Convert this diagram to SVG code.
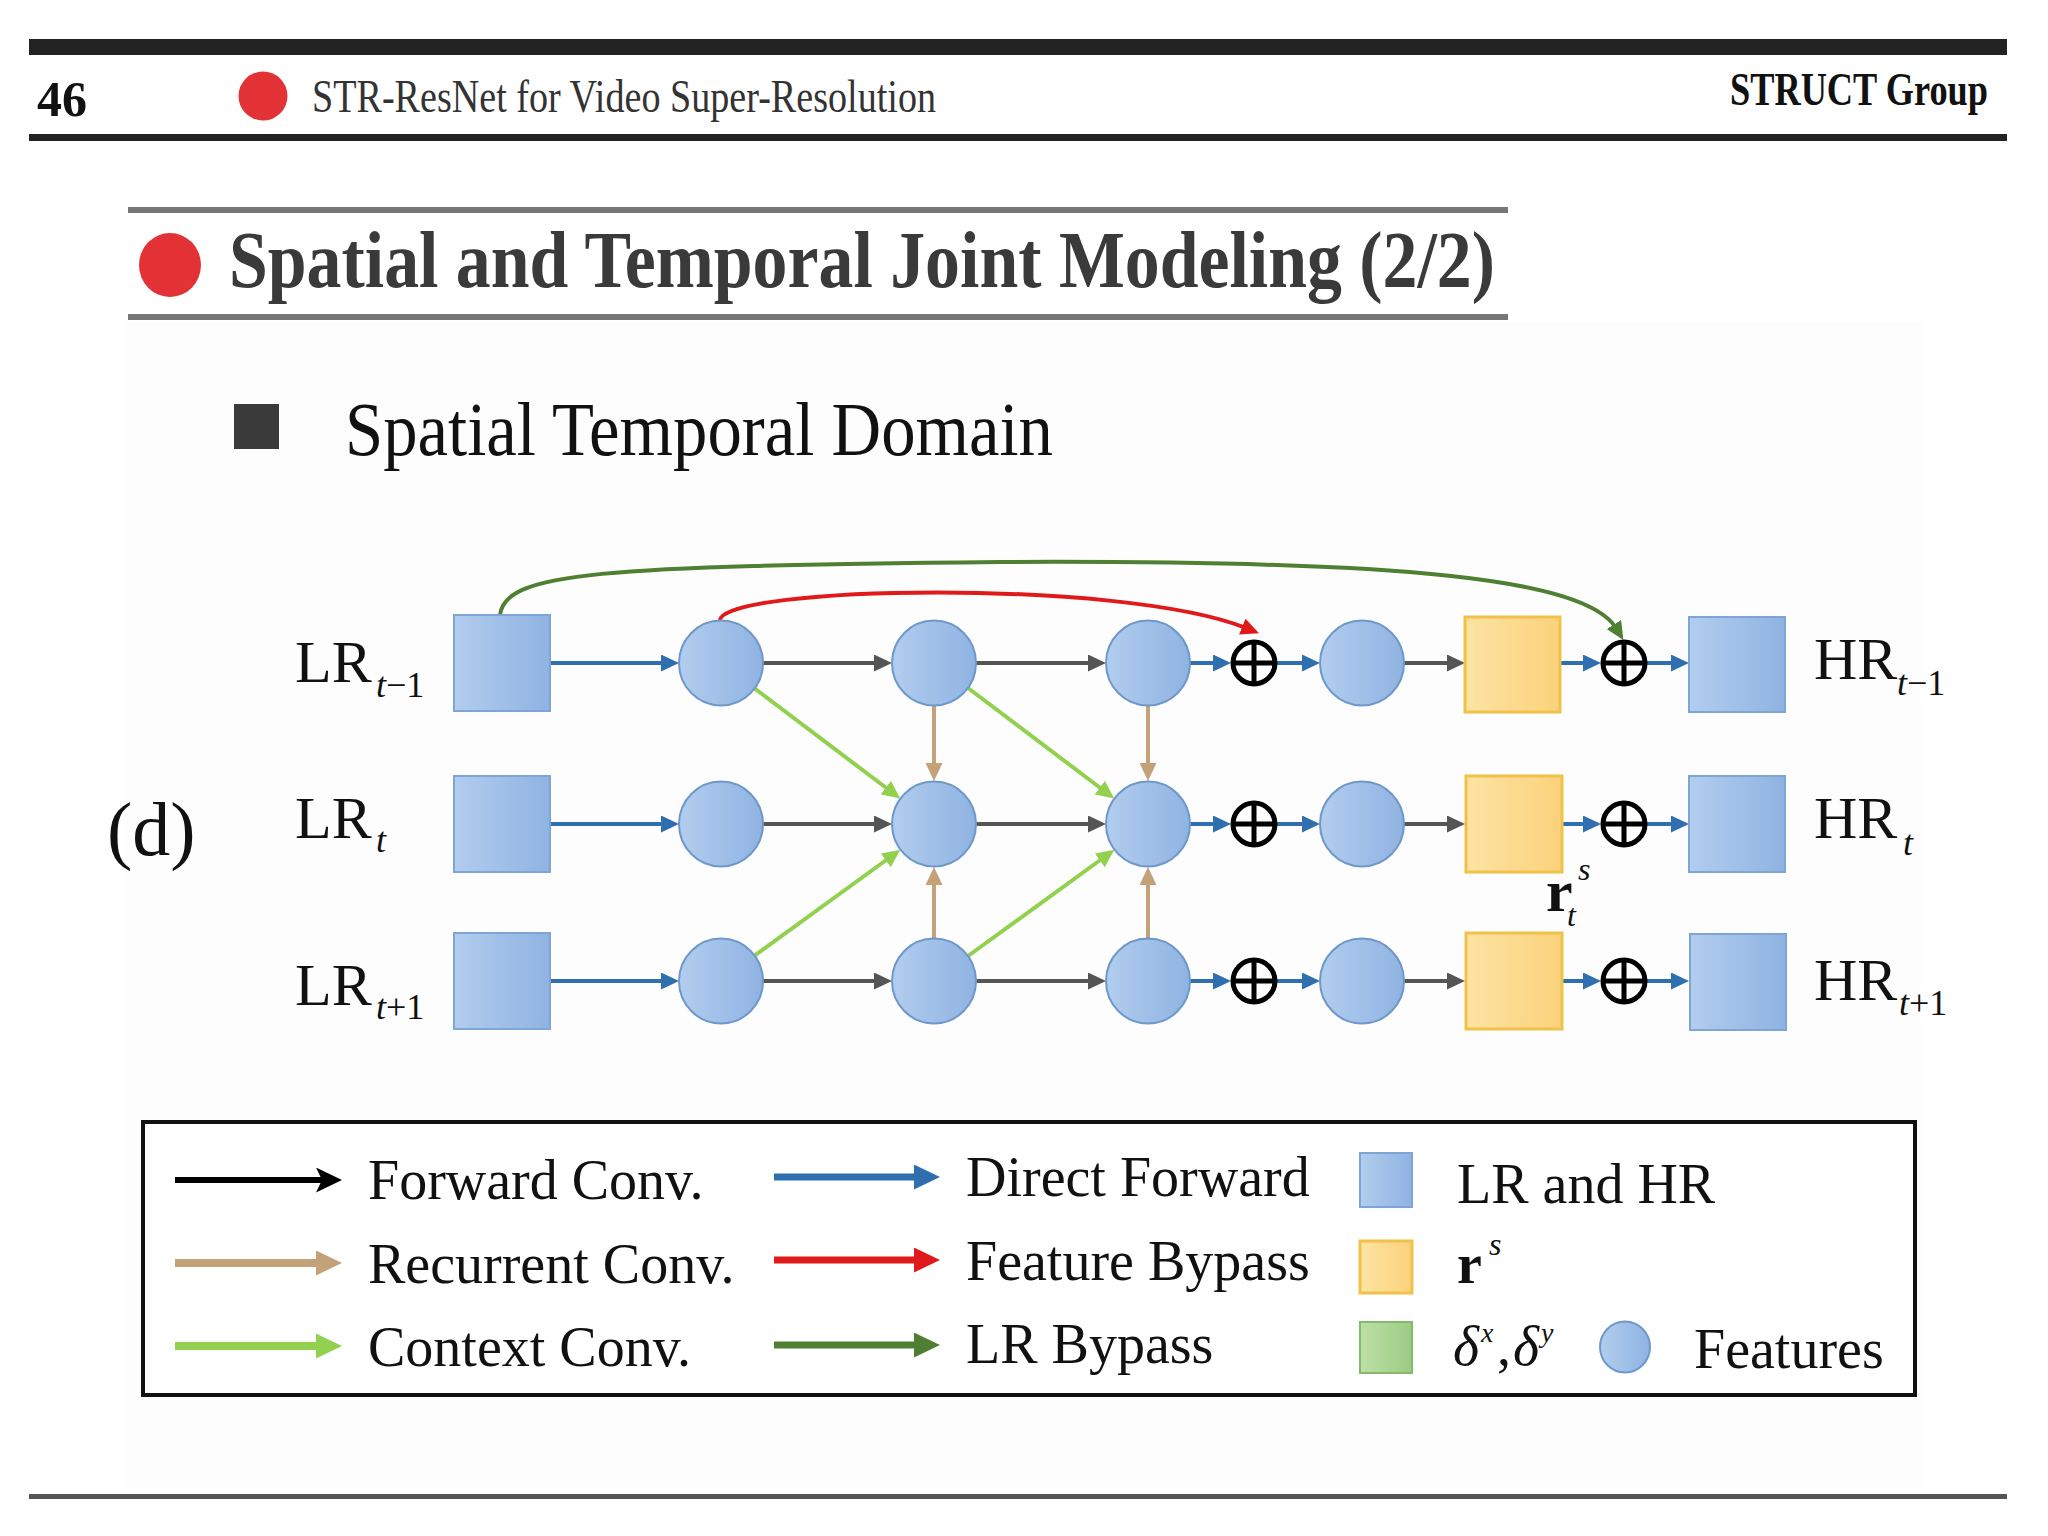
<svg xmlns="http://www.w3.org/2000/svg" width="2048" height="1536" viewBox="0 0 2048 1536">
<defs>
<linearGradient id="gBlue" x1="0" y1="0" x2="1" y2="0"><stop offset="0" stop-color="#b2cdee"/><stop offset="1" stop-color="#8fb3e2"/></linearGradient>
<linearGradient id="gYel" x1="0" y1="0" x2="1" y2="0"><stop offset="0" stop-color="#fde3a3"/><stop offset="1" stop-color="#fbd27c"/></linearGradient>
<linearGradient id="gGrn" x1="0" y1="0" x2="1" y2="0"><stop offset="0" stop-color="#bcdfa6"/><stop offset="1" stop-color="#9ccc84"/></linearGradient>
<marker id="mBlue" viewBox="0 0 18 17" refX="4" refY="8.5" markerWidth="18" markerHeight="17" markerUnits="userSpaceOnUse" orient="auto"><path d="M0,0 L18,8.5 L0,17 z" fill="#2f6fb0"/></marker>
<marker id="mGray" viewBox="0 0 18 17" refX="4" refY="8.5" markerWidth="18" markerHeight="17" markerUnits="userSpaceOnUse" orient="auto"><path d="M0,0 L18,8.5 L0,17 z" fill="#555"/></marker>
<marker id="mTan" viewBox="0 0 18 17" refX="4" refY="8.5" markerWidth="18" markerHeight="17" markerUnits="userSpaceOnUse" orient="auto"><path d="M0,0 L18,8.5 L0,17 z" fill="#c3a27a"/></marker>
<marker id="mLg" viewBox="0 0 18 17" refX="4" refY="8.5" markerWidth="18" markerHeight="17" markerUnits="userSpaceOnUse" orient="auto"><path d="M0,0 L18,8.5 L0,17 z" fill="#92d050"/></marker>
<marker id="mRed" viewBox="0 0 18 17" refX="4" refY="8.5" markerWidth="18" markerHeight="17" markerUnits="userSpaceOnUse" orient="auto"><path d="M0,0 L18,8.5 L0,17 z" fill="#e01a1a"/></marker>
<marker id="mDg" viewBox="0 0 18 17" refX="4" refY="8.5" markerWidth="18" markerHeight="17" markerUnits="userSpaceOnUse" orient="auto"><path d="M0,0 L18,8.5 L0,17 z" fill="#4f7f33"/></marker>
<marker id="LBlack" viewBox="0 0 26 25" refX="6" refY="12.5" markerWidth="26" markerHeight="25" markerUnits="userSpaceOnUse" orient="auto"><path d="M0,0 L26,12.5 L0,25 L6,12.5 z" fill="#000"/></marker>
<marker id="LTan" viewBox="0 0 26 25" refX="6" refY="12.5" markerWidth="26" markerHeight="25" markerUnits="userSpaceOnUse" orient="auto"><path d="M0,0 L26,12.5 L0,25 z" fill="#c3a27a"/></marker>
<marker id="LLg" viewBox="0 0 26 25" refX="6" refY="12.5" markerWidth="26" markerHeight="25" markerUnits="userSpaceOnUse" orient="auto"><path d="M0,0 L26,12.5 L0,25 z" fill="#92d050"/></marker>
<marker id="LBlue" viewBox="0 0 26 25" refX="6" refY="12.5" markerWidth="26" markerHeight="25" markerUnits="userSpaceOnUse" orient="auto"><path d="M0,0 L26,12.5 L0,25 z" fill="#2f6fb0"/></marker>
<marker id="LRed" viewBox="0 0 26 25" refX="6" refY="12.5" markerWidth="26" markerHeight="25" markerUnits="userSpaceOnUse" orient="auto"><path d="M0,0 L26,12.5 L0,25 z" fill="#e01a1a"/></marker>
<marker id="LDg" viewBox="0 0 26 25" refX="6" refY="12.5" markerWidth="26" markerHeight="25" markerUnits="userSpaceOnUse" orient="auto"><path d="M0,0 L26,12.5 L0,25 z" fill="#4f7f33"/></marker>
</defs>
<style>
.serif{font-family:"Liberation Serif","Times New Roman",serif}
.lbl{font-family:"Liberation Serif","Times New Roman",serif;font-size:60px;fill:#111}
.leg{font-family:"Liberation Serif","Times New Roman",serif;font-size:56px;fill:#111}
.sq{fill:url(#gBlue);stroke:#7fa5d6;stroke-width:2}
.yl{fill:url(#gYel);stroke:#f0c24a;stroke-width:3}
.ft{fill:url(#gBlue);stroke:#6f98ca;stroke-width:2}
.plus{fill:none;stroke:#000;stroke-width:5}
.a{fill:none;stroke-width:4}
.blue{stroke:#2f6fb0}
.gray{stroke:#555}
.tan{stroke:#c3a27a}
.lg{stroke:#92d050}
.red{stroke:#e01a1a}
.dg{stroke:#4f7f33}
</style>
<rect width="2048" height="1536" fill="#ffffff"/>
<rect x="126" y="322" width="1796" height="1166" fill="#fdfdfd"/>

<g id="header">
<rect x="29" y="39" width="1978" height="16" fill="#222"/>
<text x="37" y="116" class="serif" font-size="50" font-weight="bold" fill="#111">46</text>
<circle cx="263" cy="96" r="24.5" fill="#e23236"/>
<text x="312" y="112" class="serif" font-size="46" fill="#333" textLength="624" lengthAdjust="spacingAndGlyphs">STR-ResNet for Video Super-Resolution</text>
<text x="1730" y="105" class="serif" font-size="46" font-weight="bold" fill="#111" textLength="258" lengthAdjust="spacingAndGlyphs">STRUCT Group</text>
<rect x="29" y="134" width="1978" height="7" fill="#222"/>
</g>

<g id="title">
<rect x="128" y="207" width="1380" height="6" fill="#777"/>
<rect x="128" y="314" width="1380" height="6" fill="#777"/>
<ellipse cx="170" cy="265" rx="31" ry="32" fill="#e23236"/>
<text x="229" y="287" class="serif" font-size="80" font-weight="bold" fill="#3a3a3a" textLength="1266" lengthAdjust="spacingAndGlyphs">Spatial and Temporal Joint Modeling (2/2)</text>
<rect x="234" y="404" width="45" height="45" fill="#3a3a3a"/>
<text x="345" y="455" class="serif" font-size="76" fill="#111" textLength="708" lengthAdjust="spacingAndGlyphs">Spatial Temporal Domain</text>
</g>

<text x="107" y="855" class="serif" font-size="76" fill="#111">(d)</text>

<g id="connectors">
<line class="a blue" x1="550" y1="663" x2="665" y2="663" marker-end="url(#mBlue)"/>
<line class="a gray" x1="763" y1="663" x2="878" y2="663" marker-end="url(#mGray)"/>
<line class="a gray" x1="976" y1="663" x2="1092" y2="663" marker-end="url(#mGray)"/>
<line class="a blue" x1="1190" y1="663" x2="1217" y2="663" marker-end="url(#mBlue)"/>
<line class="a blue" x1="1277" y1="663" x2="1306" y2="663" marker-end="url(#mBlue)"/>
<line class="a gray" x1="1404" y1="663" x2="1451" y2="663" marker-end="url(#mGray)"/>
<line class="a blue" x1="1561" y1="663" x2="1587" y2="663" marker-end="url(#mBlue)"/>
<line class="a blue" x1="1647" y1="663" x2="1675" y2="663" marker-end="url(#mBlue)"/>
<line class="a blue" x1="550" y1="824" x2="665" y2="824" marker-end="url(#mBlue)"/>
<line class="a gray" x1="763" y1="824" x2="878" y2="824" marker-end="url(#mGray)"/>
<line class="a gray" x1="976" y1="824" x2="1092" y2="824" marker-end="url(#mGray)"/>
<line class="a blue" x1="1190" y1="824" x2="1217" y2="824" marker-end="url(#mBlue)"/>
<line class="a blue" x1="1277" y1="824" x2="1306" y2="824" marker-end="url(#mBlue)"/>
<line class="a gray" x1="1404" y1="824" x2="1451" y2="824" marker-end="url(#mGray)"/>
<line class="a blue" x1="1561" y1="824" x2="1587" y2="824" marker-end="url(#mBlue)"/>
<line class="a blue" x1="1647" y1="824" x2="1675" y2="824" marker-end="url(#mBlue)"/>
<line class="a blue" x1="550" y1="981" x2="665" y2="981" marker-end="url(#mBlue)"/>
<line class="a gray" x1="763" y1="981" x2="878" y2="981" marker-end="url(#mGray)"/>
<line class="a gray" x1="976" y1="981" x2="1092" y2="981" marker-end="url(#mGray)"/>
<line class="a blue" x1="1190" y1="981" x2="1217" y2="981" marker-end="url(#mBlue)"/>
<line class="a blue" x1="1277" y1="981" x2="1306" y2="981" marker-end="url(#mBlue)"/>
<line class="a gray" x1="1404" y1="981" x2="1451" y2="981" marker-end="url(#mGray)"/>
<line class="a blue" x1="1561" y1="981" x2="1587" y2="981" marker-end="url(#mBlue)"/>
<line class="a blue" x1="1647" y1="981" x2="1675" y2="981" marker-end="url(#mBlue)"/>
<line class="a tan" x1="934" y1="706" x2="934" y2="767" marker-end="url(#mTan)"/>
<line class="a tan" x1="1148" y1="706" x2="1148" y2="767" marker-end="url(#mTan)"/>
<line class="a tan" x1="934" y1="938" x2="934" y2="881" marker-end="url(#mTan)"/>
<line class="a tan" x1="1148" y1="938" x2="1148" y2="881" marker-end="url(#mTan)"/>
<line class="a lg" x1="754" y1="688" x2="889" y2="790" marker-end="url(#mLg)"/>
<line class="a lg" x1="968" y1="688" x2="1103" y2="790" marker-end="url(#mLg)"/>
<line class="a lg" x1="754" y1="956" x2="889" y2="858" marker-end="url(#mLg)"/>
<line class="a lg" x1="968" y1="956" x2="1103" y2="858" marker-end="url(#mLg)"/>
<path class="a red" d="M720,620 C724,586 1120,578 1246,628" marker-end="url(#mRed)"/>
<path class="a dg" d="M500,615 C505,572 600,566 1000,562 C1400,560 1585,578 1616,628" marker-end="url(#mDg)"/>
</g>

<g id="lr1"><rect class="sq" x="454" y="615" width="96" height="96"/><text class="lbl" x="295" y="682">LR<tspan x="376" y="697" font-size="36"><tspan font-style="italic">t</tspan>−1</tspan></text></g>
<g id="lr2"><rect class="sq" x="454" y="776" width="96" height="96"/><text class="lbl" x="295" y="838">LR<tspan x="376" y="852" font-size="36" font-style="italic">t</tspan></text></g>
<g id="lr3"><rect class="sq" x="454" y="933" width="96" height="96"/><text class="lbl" x="295" y="1005">LR<tspan x="376" y="1019" font-size="36"><tspan font-style="italic">t</tspan>+1</tspan></text></g>

<g id="f11"><ellipse class="ft" cx="721" cy="663" rx="42" ry="42.5"/></g>
<g id="f12"><ellipse class="ft" cx="934" cy="663" rx="42" ry="42.5"/></g>
<g id="f13"><ellipse class="ft" cx="1148" cy="663" rx="42" ry="42.5"/></g>
<g id="f14"><ellipse class="ft" cx="1362" cy="663" rx="42" ry="42.5"/></g>
<g id="f21"><ellipse class="ft" cx="721" cy="824" rx="42" ry="42.5"/></g>
<g id="f22"><ellipse class="ft" cx="934" cy="824" rx="42" ry="42.5"/></g>
<g id="f23"><ellipse class="ft" cx="1148" cy="824" rx="42" ry="42.5"/></g>
<g id="f24"><ellipse class="ft" cx="1362" cy="824" rx="42" ry="42.5"/></g>
<g id="f31"><ellipse class="ft" cx="721" cy="981" rx="42" ry="42.5"/></g>
<g id="f32"><ellipse class="ft" cx="934" cy="981" rx="42" ry="42.5"/></g>
<g id="f33"><ellipse class="ft" cx="1148" cy="981" rx="42" ry="42.5"/></g>
<g id="f34"><ellipse class="ft" cx="1362" cy="981" rx="42" ry="42.5"/></g>

<g id="p11"><circle class="plus" cx="1254" cy="663" r="21"/><path class="plus" d="M1233,663 H1275 M1254,642 V684"/></g>
<g id="p21"><circle class="plus" cx="1254" cy="824" r="21"/><path class="plus" d="M1233,824 H1275 M1254,803 V845"/></g>
<g id="p31"><circle class="plus" cx="1254" cy="981" r="21"/><path class="plus" d="M1233,981 H1275 M1254,960 V1002"/></g>
<g id="p12"><circle class="plus" cx="1624" cy="663" r="21"/><path class="plus" d="M1603,663 H1645 M1624,642 V684"/></g>
<g id="p22"><circle class="plus" cx="1624" cy="824" r="21"/><path class="plus" d="M1603,824 H1645 M1624,803 V845"/></g>
<g id="p32"><circle class="plus" cx="1624" cy="981" r="21"/><path class="plus" d="M1603,981 H1645 M1624,960 V1002"/></g>

<g id="r1"><rect class="yl" x="1465" y="617" width="95" height="95"/></g>
<g id="r2"><rect class="yl" x="1466" y="776" width="96" height="96"/><text class="lbl" x="1546" y="911" font-weight="bold" font-size="58">r<tspan x="1578" y="880" font-size="32" font-style="italic" font-weight="normal">s</tspan><tspan x="1567" y="926" font-size="32" font-style="italic" font-weight="normal">t</tspan></text></g>
<g id="r3"><rect class="yl" x="1466" y="933" width="96" height="96"/></g>

<g id="hr1"><rect class="sq" x="1689" y="617" width="96" height="95"/><text class="lbl" x="1814" y="679">HR<tspan x="1897" y="695" font-size="36"><tspan font-style="italic">t</tspan>−1</tspan></text></g>
<g id="hr2"><rect class="sq" x="1689" y="776" width="96" height="96"/><text class="lbl" x="1814" y="838">HR<tspan x="1903" y="855" font-size="36" font-style="italic">t</tspan></text></g>
<g id="hr3"><rect class="sq" x="1690" y="934" width="96" height="96"/><text class="lbl" x="1814" y="1000">HR<tspan x="1899" y="1015" font-size="36"><tspan font-style="italic">t</tspan>+1</tspan></text></g>

<g id="legend">
<rect x="143" y="1122" width="1772" height="273" fill="#fff" stroke="#111" stroke-width="4"/>
<line x1="175" y1="1180" x2="322" y2="1180" stroke="#000" stroke-width="6" marker-end="url(#LBlack)"/>
<line x1="175" y1="1263" x2="322" y2="1263" stroke="#c3a27a" stroke-width="8" marker-end="url(#LTan)"/>
<line x1="175" y1="1346" x2="322" y2="1346" stroke="#92d050" stroke-width="8" marker-end="url(#LLg)"/>
<line x1="774" y1="1177" x2="920" y2="1177" stroke="#2f6fb0" stroke-width="7" marker-end="url(#LBlue)"/>
<line x1="774" y1="1260" x2="920" y2="1260" stroke="#e01a1a" stroke-width="7" marker-end="url(#LRed)"/>
<line x1="774" y1="1345" x2="920" y2="1345" stroke="#4f7f33" stroke-width="7" marker-end="url(#LDg)"/>
<text class="leg" x="368" y="1199">Forward Conv.</text>
<text class="leg" x="368" y="1283">Recurrent Conv.</text>
<text class="leg" x="368" y="1366">Context Conv.</text>
<text class="leg" x="966" y="1196">Direct Forward</text>
<text class="leg" x="966" y="1280">Feature Bypass</text>
<text class="leg" x="966" y="1363">LR Bypass</text>
<rect class="sq" x="1360" y="1153" width="52" height="54"/>
<rect class="yl" x="1360" y="1241" width="52" height="52"/>
<rect x="1360" y="1322" width="52" height="51" fill="url(#gGrn)" stroke="#85b96b" stroke-width="2"/>
<ellipse class="ft" cx="1625" cy="1347" rx="25" ry="25.5"/>
<text class="leg" x="1457" y="1203">LR and HR</text>
<text class="leg" x="1457" y="1283" font-weight="bold">r<tspan x="1489" y="1255" font-size="32" font-style="italic" font-weight="normal">s</tspan></text>
<text class="leg" x="1453" y="1365" font-style="italic">δ<tspan x="1481" y="1342" font-size="28">x</tspan><tspan x="1497" y="1365" font-style="normal">,</tspan><tspan x="1513" y="1365">δ</tspan><tspan x="1541" y="1342" font-size="28">y</tspan></text>
<text class="leg" x="1694" y="1368">Features</text>
</g>

<rect x="29" y="1494" width="1978" height="5" fill="#555"/>
</svg>
